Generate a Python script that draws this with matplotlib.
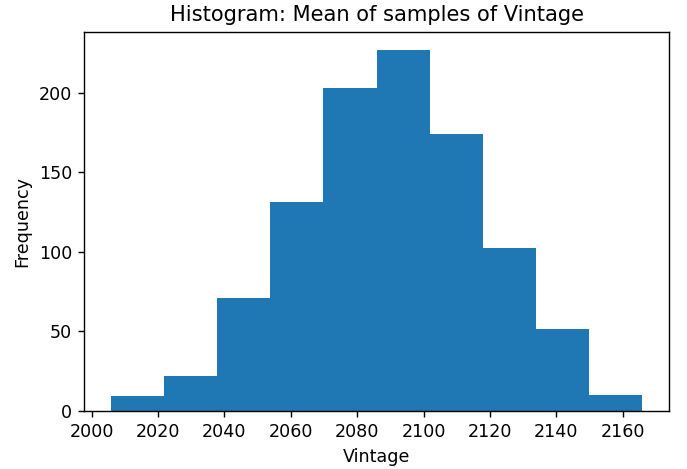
import matplotlib
matplotlib.use("Agg")
import matplotlib.pyplot as plt

# histogram of sample means
bin_edges = [2005.8, 2021.8, 2037.8, 2053.8, 2069.8, 2085.8,
             2101.8, 2117.8, 2133.8, 2149.8, 2165.8]
counts = [9, 22, 71, 131, 203, 227, 174, 102, 51, 10]

fig = plt.figure(figsize=(687 / 126, 469 / 126), dpi=126)
ax = fig.add_axes([0.1227, 0.1247, 0.8507, 0.8077])

ax.hist(bin_edges[:-1], bins=bin_edges, weights=counts, color='#1f77b4')

ax.set_title("Histogram: Mean of samples of Vintage")
ax.set_xlabel("Vintage")
ax.set_ylabel("Frequency")
ax.set_xticks([2000, 2020, 2040, 2060, 2080, 2100, 2120, 2140, 2160])

fig.savefig("out.png", dpi=126)
